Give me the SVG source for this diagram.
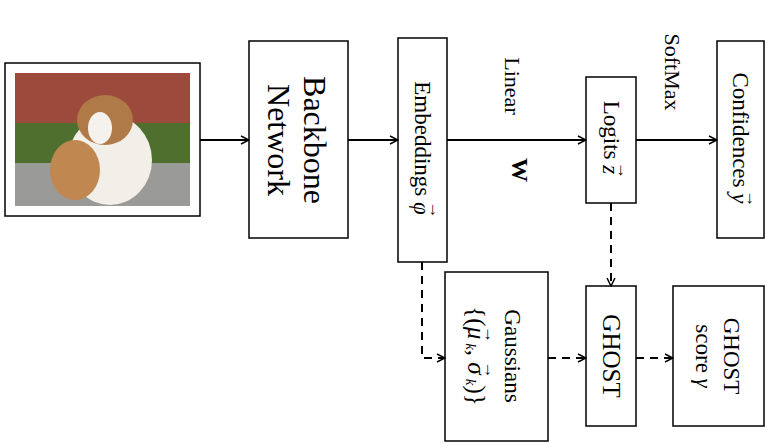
<svg xmlns="http://www.w3.org/2000/svg" width="770" height="448" viewBox="0 0 770 448">
<style>
.b{fill:#fff;stroke:#000;stroke-width:1.5}
.t{font-family:"Liberation Serif",serif;fill:#000;text-anchor:middle;dominant-baseline:central}
.c{stroke:#000;stroke-width:2;fill:none}
.d{stroke-dasharray:8,6}
.i{font-style:italic}
.v{font-size:17px}
</style>
<defs><marker id="a" viewBox="0 0 10 10" refX="9" refY="5" markerWidth="10" markerHeight="10" markerUnits="userSpaceOnUse" orient="auto"><path d="M1,1 L9,5 L1,9" fill="none" stroke="#000" stroke-width="1.5"/></marker></defs>
<g id="image">
<rect x="5" y="63" width="195" height="153" class="b"/>
<rect x="15" y="73" width="175" height="133" fill="#8a6a5a"/>
<rect x="15" y="73" width="175" height="50" fill="#9b4a3c"/>
<rect x="15" y="123" width="175" height="40" fill="#4f6f2e"/>
<rect x="15" y="163" width="175" height="43" fill="#9a9a98"/>
<ellipse cx="110" cy="160" rx="42" ry="45" fill="#f2eee8"/>
<ellipse cx="105" cy="120" rx="28" ry="25" fill="#b07a48"/>
<ellipse cx="100" cy="128" rx="12" ry="16" fill="#f5f2ee"/>
<ellipse cx="75" cy="170" rx="25" ry="30" fill="#c08850"/>
</g>
<g id="backbone"><rect x="249" y="41" width="99" height="197" class="b"/>
<text class="t" font-size="32" transform="translate(298,140) rotate(90)"><tspan x="0" dy="-17">Backbone</tspan><tspan x="0" dy="36">Network</tspan></text></g>
<g id="embeddings"><rect x="398" y="38" width="49" height="224" class="b"/>
<text class="t" font-size="23" transform="translate(422,150) rotate(90)">Embeddings <tspan class="i">φ</tspan><tspan class="v" dx="-13" dy="-14">→</tspan></text></g>
<g id="logits"><rect x="586" y="77" width="50" height="126" class="b"/>
<text class="t" font-size="23" transform="translate(611,140) rotate(90)">Logits <tspan class="i">z</tspan><tspan class="v" dx="-12" dy="-13">→</tspan></text></g>
<g id="confidences"><rect x="717" y="41" width="47" height="197" class="b"/>
<text class="t" font-size="23" transform="translate(740,140) rotate(90)">Confidences <tspan class="i">y</tspan><tspan class="v" dx="-13" dy="-13">→</tspan></text></g>
<g id="gaussians"><rect x="445" y="272" width="103" height="169" class="b"/>
<text class="t" font-size="23" transform="translate(496,356) rotate(90)"><tspan x="0" dy="-17">Gaussians</tspan></text>
<text class="t" font-size="25" transform="translate(496,356) rotate(90)"><tspan x="0" dy="19">{(</tspan><tspan class="i">μ</tspan><tspan class="v" dx="-13" dy="-14">→</tspan><tspan font-size="15" class="i" dy="20">k</tspan><tspan dy="-6">, </tspan><tspan class="i">σ</tspan><tspan class="v" dx="-13" dy="-14">→</tspan><tspan font-size="15" class="i" dy="20">k</tspan><tspan dy="-6">)}</tspan></text></g>
<g id="ghost"><rect x="586" y="286" width="50" height="140" class="b"/>
<text class="t" font-size="25" transform="translate(611,356) rotate(90)">GHOST</text></g>
<g id="score"><rect x="673" y="286" width="91" height="140" class="b"/>
<text class="t" font-size="23" transform="translate(718,356) rotate(90)"><tspan x="0" dy="-14">GHOST</tspan><tspan x="0" dy="28">score <tspan class="i">γ</tspan></tspan></text></g>
<g id="labels">
<text class="t" font-size="22" transform="translate(512,86) rotate(90)">Linear</text>
<text class="t" font-size="24" font-weight="bold" transform="translate(520,170) rotate(90)">W</text>
<text class="t" font-size="22" transform="translate(672,72) rotate(90)">SoftMax</text>
</g>
<g id="connectors">
<path class="c" d="M200,140H249" marker-end="url(#a)"/>
<path class="c" d="M348,140H398" marker-end="url(#a)"/>
<path class="c" d="M447,140H586" marker-end="url(#a)"/>
<path class="c" d="M636,140H717" marker-end="url(#a)"/>
<path class="c d" d="M422,262V358H445" marker-end="url(#a)"/>
<path class="c d" d="M548,358H586" marker-end="url(#a)"/>
<path class="c d" d="M611,203V286" marker-end="url(#a)"/>
<path class="c d" d="M636,358H673" marker-end="url(#a)"/>
</g>
</svg>
